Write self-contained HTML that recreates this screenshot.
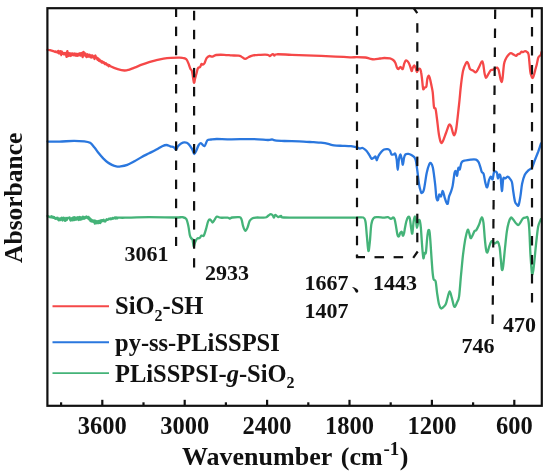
<!DOCTYPE html>
<html><head><meta charset="utf-8"><style>
html,body{margin:0;padding:0;background:#fff;}
svg{display:block;}
</style></head><body>
<svg width="550" height="474" viewBox="0 0 550 474">
<rect width="550" height="474" fill="#fff"/>
<g fill="none" stroke-width="2.3" stroke-linejoin="round" stroke-linecap="round">
<path d="M47.5,49.8 C47.9,49.9 48.9,49.9 50.0,50.2 C51.1,50.5 53.2,51.1 54.0,51.4 C54.8,51.7 54.5,51.8 54.7,51.8 C54.9,51.8 55.2,51.2 55.4,51.3 C55.6,51.3 55.9,52.0 56.1,52.1 C56.3,52.2 56.6,51.7 56.8,51.7 C57.0,51.8 57.3,52.7 57.5,52.5 C57.7,52.4 58.0,50.8 58.2,50.9 C58.4,51.1 58.7,53.2 58.9,53.4 C59.1,53.6 59.4,52.2 59.6,51.9 C59.8,51.5 60.1,50.7 60.3,51.3 C60.5,51.8 60.8,55.1 61.0,55.1 C61.2,55.2 61.5,51.7 61.7,51.5 C61.9,51.3 62.2,53.7 62.4,53.9 C62.6,54.1 62.9,52.7 63.1,52.8 C63.3,52.9 63.6,54.4 63.8,54.4 C64.0,54.4 64.3,52.8 64.5,52.8 C64.7,52.8 65.0,54.4 65.2,54.4 C65.4,54.4 65.7,52.6 65.9,53.0 C66.1,53.4 66.4,57.3 66.6,56.9 C66.8,56.6 67.1,51.3 67.3,51.1 C67.5,50.9 67.8,55.1 68.0,55.8 C68.2,56.4 68.5,55.4 68.7,54.9 C68.9,54.5 69.2,53.0 69.4,53.2 C69.6,53.4 69.9,56.1 70.1,56.1 C70.3,56.1 70.6,53.4 70.8,53.3 C71.0,53.2 71.3,55.6 71.5,55.7 C71.7,55.7 72.0,53.7 72.2,53.4 C72.4,53.1 72.7,53.5 72.9,53.9 C73.1,54.2 73.4,55.5 73.6,55.4 C73.8,55.4 74.1,53.5 74.3,53.5 C74.5,53.6 74.8,55.6 75.0,55.6 C75.2,55.6 75.5,53.6 75.7,53.6 C75.9,53.7 76.2,55.8 76.4,55.8 C76.6,55.8 76.9,53.8 77.1,53.9 C77.3,53.9 77.6,55.9 77.8,55.9 C78.0,55.9 78.3,53.9 78.5,53.8 C78.7,53.7 79.0,55.4 79.2,55.3 C79.4,55.2 79.7,53.1 79.9,53.1 C80.1,53.2 80.4,55.5 80.6,55.6 C80.8,55.6 81.1,54.0 81.3,53.6 C81.5,53.2 81.8,52.6 82.0,53.2 C82.2,53.8 82.5,57.3 82.7,57.1 C82.9,56.9 83.2,52.6 83.4,52.0 C83.6,51.5 83.9,53.0 84.1,53.7 C84.3,54.3 84.6,55.7 84.8,55.7 C85.0,55.7 85.3,53.4 85.5,53.5 C85.7,53.7 86.0,56.0 86.2,56.6 C86.4,57.1 86.7,57.2 86.9,56.8 C87.1,56.4 87.4,54.1 87.6,54.1 C87.8,54.1 88.1,56.5 88.3,56.7 C88.5,56.9 88.8,55.6 89.0,55.2 C89.2,54.9 89.5,54.5 89.7,54.8 C89.9,55.2 90.2,57.1 90.4,57.2 C90.6,57.3 90.9,55.4 91.1,55.4 C91.3,55.5 91.6,57.5 91.8,57.5 C92.0,57.6 92.3,55.5 92.5,55.5 C92.7,55.4 93.0,57.2 93.2,57.3 C93.4,57.5 93.7,56.1 93.9,56.4 C94.1,56.7 94.4,59.1 94.6,59.0 C94.8,58.8 95.1,55.8 95.3,55.5 C95.5,55.3 95.8,57.3 96.0,57.6 C96.2,57.9 96.5,57.2 96.7,57.5 C96.9,57.9 97.2,59.6 97.4,59.7 C97.6,59.8 97.9,58.1 98.1,58.3 C98.3,58.5 98.6,60.4 98.8,60.7 C99.0,60.9 99.3,59.5 99.5,59.6 C99.7,59.7 100.0,61.2 100.2,61.4 C100.4,61.6 100.7,60.6 100.9,60.8 C101.1,61.0 101.4,62.4 101.6,62.5 C101.8,62.6 102.1,61.4 102.3,61.4 C102.5,61.5 102.8,62.6 103.0,62.7 C103.2,62.9 103.5,62.0 103.7,62.1 C103.9,62.3 104.2,63.2 104.4,63.6 C104.6,63.9 104.9,64.4 105.1,64.3 C105.3,64.2 105.6,63.2 105.8,63.1 C106.0,63.1 106.3,63.7 106.5,64.0 C106.7,64.3 107.0,65.0 107.2,65.1 C107.4,65.2 107.7,64.4 107.9,64.6 C108.1,64.7 108.4,66.1 108.6,66.2 C108.8,66.3 109.0,65.1 109.3,65.1 C109.6,65.2 109.1,65.5 110.5,66.2 C111.9,66.9 115.4,68.4 117.7,69.1 C120.0,69.8 122.6,70.4 124.4,70.5 C126.2,70.6 127.0,70.3 128.7,69.8 C130.4,69.3 132.3,68.4 134.5,67.6 C136.7,66.8 139.4,65.6 141.8,64.7 C144.2,63.8 146.7,62.9 149.1,62.1 C151.5,61.3 154.0,60.7 156.4,60.1 C158.8,59.5 161.2,59.0 163.6,58.6 C166.0,58.2 168.5,58.0 170.9,57.9 C173.3,57.8 176.3,57.7 178.2,57.7 C180.1,57.7 181.2,57.6 182.5,57.9 C183.8,58.1 185.2,58.3 186.2,59.2 C187.2,60.1 187.7,61.6 188.4,63.3 C189.1,64.9 189.9,67.8 190.5,69.1 C191.1,70.4 191.4,69.1 192.0,71.3 C192.6,73.5 193.4,81.2 193.9,82.5 C194.4,83.8 194.6,80.5 195.0,79.0 C195.4,77.5 196.0,75.3 196.5,73.5 C197.0,71.7 197.3,69.5 197.9,68.4 C198.5,67.3 199.5,67.6 200.1,66.9 C200.7,66.2 201.0,64.4 201.5,64.0 C202.0,63.6 202.5,64.8 203.0,64.7 C203.5,64.6 203.9,64.4 204.5,63.3 C205.1,62.2 205.8,59.4 206.6,58.2 C207.4,57.0 208.5,56.2 209.5,56.0 C210.5,55.8 211.4,56.9 212.5,56.7 C213.6,56.5 214.2,55.3 216.1,55.0 C218.0,54.7 221.5,54.7 224.1,54.8 C226.7,54.9 229.0,55.2 231.4,55.4 C233.8,55.5 236.9,55.5 238.6,55.7 C240.3,55.9 240.4,56.2 241.5,56.7 C242.6,57.2 244.0,58.9 245.2,58.9 C246.4,58.9 247.5,57.6 248.8,57.0 C250.1,56.4 251.2,55.7 253.2,55.3 C255.1,54.9 258.1,54.9 260.5,54.8 C262.9,54.7 266.1,54.6 267.7,54.8 C269.3,55.0 269.0,56.1 269.9,56.0 C270.8,55.9 272.1,54.1 272.8,54.1 C273.6,54.1 273.8,55.7 274.4,55.7 C275.0,55.7 273.6,54.4 276.5,54.3 C279.4,54.1 285.6,54.6 291.8,54.8 C298.0,55.0 306.3,55.3 313.6,55.6 C320.9,55.9 329.4,56.4 335.5,56.7 C341.6,57.0 346.5,57.2 350.0,57.3 C353.5,57.4 354.0,57.2 356.6,57.2 C359.2,57.2 363.2,57.3 365.4,57.5 C367.6,57.7 368.2,58.3 369.7,58.6 C371.1,58.9 372.4,59.3 374.1,59.3 C375.8,59.3 378.2,58.7 379.9,58.5 C381.6,58.3 382.6,58.0 384.3,58.0 C386.0,58.0 388.5,58.1 390.0,58.4 C391.5,58.7 392.3,59.3 393.2,60.0 C394.1,60.7 394.7,61.5 395.3,62.7 C395.9,63.9 396.4,66.4 396.9,67.4 C397.4,68.5 397.8,69.1 398.4,69.0 C399.0,68.9 399.8,66.9 400.5,66.9 C401.2,66.9 402.1,69.5 402.7,69.0 C403.3,68.5 403.7,65.1 404.2,63.7 C404.7,62.3 405.2,60.9 405.8,60.5 C406.4,60.1 407.2,60.7 407.9,61.6 C408.6,62.5 409.4,64.2 410.0,65.8 C410.6,67.4 411.2,70.8 411.6,71.1 C412.1,71.4 412.2,68.9 412.7,67.9 C413.1,66.9 413.8,65.2 414.3,65.3 C414.8,65.4 415.4,67.3 415.8,68.5 C416.2,69.7 416.4,72.1 416.9,72.2 C417.3,72.3 418.0,69.5 418.5,69.0 C419.0,68.5 419.7,68.5 420.1,69.0 C420.5,69.5 420.8,70.3 421.1,72.2 C421.5,74.1 421.9,77.8 422.2,80.6 C422.5,83.4 422.8,87.9 423.2,89.0 C423.6,90.1 424.3,87.8 424.8,87.4 C425.3,87.0 426.0,87.9 426.4,86.4 C426.8,84.9 427.0,80.3 427.4,78.5 C427.8,76.7 428.1,76.0 428.5,75.8 C428.9,75.6 429.2,76.1 429.6,77.4 C430.0,78.7 430.6,81.3 431.1,83.8 C431.6,86.3 432.2,88.3 432.7,92.2 C433.2,96.1 433.5,104.2 434.0,107.0 C434.5,109.8 435.1,107.0 435.6,109.0 C436.1,111.0 436.4,114.7 437.0,119.0 C437.6,123.3 438.3,131.1 439.0,135.0 C439.7,138.9 440.3,141.6 441.0,142.6 C441.7,143.6 442.2,142.6 443.0,141.0 C443.8,139.4 445.0,135.7 446.0,133.0 C447.0,130.3 448.2,126.2 449.0,125.0 C449.8,123.8 450.3,124.7 451.0,126.0 C451.7,127.3 452.4,131.5 453.0,133.0 C453.6,134.5 453.9,136.0 454.5,135.0 C455.1,134.0 455.8,132.0 456.5,127.0 C457.2,122.0 458.2,112.0 459.0,105.0 C459.8,98.0 460.3,90.7 461.0,85.0 C461.7,79.3 462.2,74.7 463.0,71.0 C463.8,67.3 465.2,64.5 466.0,63.0 C466.8,61.5 467.1,62.0 467.5,62.3 C467.9,62.6 468.2,63.6 468.6,64.7 C469.0,65.8 469.4,68.1 470.1,69.1 C470.8,70.1 472.0,70.0 473.0,70.5 C474.0,71.0 474.9,72.8 475.9,72.3 C476.9,71.8 477.8,69.4 478.8,67.6 C479.8,65.8 481.0,62.1 481.7,61.5 C482.4,60.9 482.7,62.0 483.2,64.0 C483.7,66.0 484.1,71.2 484.6,73.5 C485.1,75.8 485.5,77.7 486.1,77.8 C486.7,77.9 487.6,75.4 488.3,74.2 C489.0,73.0 489.8,71.2 490.5,70.5 C491.2,69.8 491.9,70.1 492.6,69.8 C493.4,69.5 494.2,68.9 495.0,68.5 C495.8,68.1 496.5,67.3 497.1,67.6 C497.7,67.9 498.2,68.4 498.7,70.1 C499.2,71.8 499.8,76.0 500.3,78.0 C500.8,80.0 501.1,82.2 501.5,82.2 C501.9,82.2 502.2,81.0 502.6,78.0 C503.0,75.0 503.5,67.4 504.0,64.3 C504.5,61.2 504.9,60.9 505.5,59.5 C506.1,58.1 506.9,56.8 507.7,55.8 C508.5,54.8 509.6,53.6 510.3,53.2 C511.0,52.8 511.3,53.2 511.9,53.5 C512.5,53.8 513.3,54.4 514.0,54.8 C514.7,55.2 515.5,55.9 516.1,55.8 C516.7,55.7 517.1,54.6 517.7,54.2 C518.3,53.9 519.2,54.1 519.8,53.7 C520.4,53.3 520.9,52.1 521.4,51.8 C521.9,51.5 522.4,52.2 523.0,52.1 C523.6,52.0 524.4,51.1 525.1,51.1 C525.8,51.1 526.6,51.6 527.2,52.1 C527.8,52.6 528.1,52.7 528.5,54.2 C528.9,55.7 529.0,58.2 529.3,61.1 C529.6,64.0 529.9,69.1 530.3,71.6 C530.6,74.1 531.0,74.8 531.4,75.9 C531.8,77.0 532.0,77.9 532.4,78.0 C532.8,78.1 533.0,77.6 533.5,76.4 C534.0,75.2 534.6,72.5 535.1,70.6 C535.6,68.7 536.2,66.9 536.7,64.8 C537.2,62.7 537.7,59.4 538.2,57.9 C538.7,56.4 539.3,56.3 539.8,55.8 C540.2,55.3 540.6,55.4 540.9,54.8 C541.2,54.2 541.4,52.5 541.5,52.1" stroke="#f54848"/>
<path d="M47.5,141.6 C49.5,141.6 55.1,141.7 59.5,141.6 C63.9,141.5 70.0,140.9 74.1,140.9 C78.2,140.9 81.6,141.0 84.3,141.3 C87.0,141.6 88.4,141.8 90.1,142.8 C91.8,143.8 93.0,145.8 94.5,147.5 C96.0,149.2 97.3,151.5 98.8,153.3 C100.2,155.1 101.8,156.9 103.2,158.4 C104.7,159.9 106.0,161.2 107.5,162.3 C109.0,163.4 110.4,164.2 111.9,164.9 C113.4,165.6 114.8,166.2 116.3,166.4 C117.8,166.7 118.8,166.7 120.6,166.4 C122.4,166.2 125.0,165.8 127.3,164.9 C129.6,164.1 132.1,162.6 134.5,161.3 C136.9,160.0 139.4,158.2 141.8,156.9 C144.2,155.6 146.7,154.5 149.1,153.3 C151.5,152.1 154.2,150.8 156.4,149.6 C158.6,148.4 160.5,147.1 162.2,146.3 C163.9,145.5 165.2,145.0 166.5,145.0 C167.8,145.0 169.0,145.9 170.2,146.3 C171.4,146.7 172.8,146.6 173.8,147.2 C174.8,147.8 175.3,149.8 176.0,149.6 C176.7,149.4 177.3,147.0 178.2,146.0 C179.0,145.0 180.0,144.0 181.1,143.4 C182.2,142.8 183.5,142.3 184.7,142.4 C185.9,142.5 187.2,142.7 188.4,143.8 C189.6,144.9 191.0,147.2 192.0,148.9 C193.0,150.6 193.5,153.8 194.2,154.0 C194.9,154.2 195.7,151.8 196.4,150.4 C197.1,149.0 197.8,146.5 198.5,145.3 C199.2,144.1 199.8,143.1 200.8,143.2 C201.8,143.3 203.4,146.6 204.5,146.1 C205.6,145.6 206.3,141.4 207.4,140.3 C208.5,139.2 209.4,139.7 211.0,139.5 C212.6,139.3 213.4,139.0 216.8,139.0 C220.2,139.0 225.3,139.3 231.4,139.3 C237.5,139.3 247.1,139.0 253.2,139.1 C259.2,139.2 264.5,139.9 267.7,140.0 C270.9,140.1 270.9,139.4 272.1,139.5 C273.3,139.6 272.9,140.1 275.0,140.3 C277.1,140.6 280.5,140.8 284.5,141.0 C288.5,141.2 294.2,141.2 299.1,141.4 C304.0,141.6 310.0,142.0 313.6,142.2 C317.2,142.4 318.5,142.4 320.9,142.7 C323.3,143.0 326.0,143.4 328.2,143.9 C330.4,144.4 331.6,145.1 334.0,145.4 C336.4,145.7 339.9,145.7 342.7,145.8 C345.5,145.9 348.5,145.9 350.9,146.2 C353.2,146.5 355.3,147.0 356.8,147.4 C358.3,147.8 358.8,148.4 359.8,148.5 C360.8,148.6 361.6,147.6 362.7,148.0 C363.8,148.4 365.3,149.5 366.4,150.7 C367.5,151.9 368.5,153.8 369.4,155.1 C370.3,156.4 370.9,158.4 371.6,158.8 C372.3,159.2 373.1,158.1 373.8,157.7 C374.5,157.3 375.1,156.2 375.6,156.6 C376.1,157.0 376.3,160.3 376.7,160.3 C377.1,160.3 377.4,158.0 378.2,156.6 C378.9,155.2 380.2,153.3 381.2,152.1 C382.2,150.9 383.0,150.0 384.1,149.5 C385.2,149.0 386.8,149.0 387.8,149.2 C388.8,149.4 389.4,149.8 390.0,150.7 C390.6,151.6 390.9,153.8 391.5,154.4 C392.1,155.0 393.1,154.5 393.7,154.4 C394.3,154.3 394.7,152.8 395.2,153.6 C395.7,154.4 396.3,156.8 396.7,159.5 C397.1,162.2 397.3,169.9 397.7,169.9 C398.1,169.9 398.4,162.1 398.9,159.5 C399.3,156.9 399.9,154.4 400.4,154.4 C400.9,154.4 401.4,157.8 401.8,159.5 C402.2,161.2 402.5,164.9 402.9,164.7 C403.3,164.4 403.6,159.7 404.0,158.0 C404.4,156.3 404.8,155.1 405.5,154.4 C406.2,153.7 407.5,153.8 408.5,153.9 C409.5,154.0 410.4,154.5 411.4,155.1 C412.4,155.7 413.7,156.4 414.4,157.3 C415.1,158.2 415.3,158.1 415.8,160.5 C416.3,162.9 417.0,168.1 417.5,172.0 C418.0,175.9 418.5,180.9 419.0,184.0 C419.5,187.1 420.0,189.0 420.5,190.5 C421.0,192.0 421.2,193.2 421.8,193.0 C422.4,192.8 423.2,192.5 424.0,189.2 C424.8,185.9 425.8,177.2 426.7,173.0 C427.6,168.8 428.6,165.7 429.3,164.1 C430.0,162.5 430.5,162.6 431.1,163.2 C431.7,163.8 432.2,164.3 432.9,167.7 C433.6,171.1 434.5,178.7 435.1,183.8 C435.7,188.9 436.0,195.4 436.5,198.1 C437.0,200.8 437.6,200.5 438.0,199.9 C438.4,199.3 438.7,195.2 439.2,194.6 C439.7,194.0 440.4,197.0 441.0,196.4 C441.6,195.8 442.2,190.8 442.8,191.0 C443.4,191.2 444.0,195.4 444.6,197.3 C445.2,199.2 445.9,201.6 446.4,202.6 C446.9,203.6 447.4,204.5 447.8,203.5 C448.2,202.5 448.6,198.3 449.1,196.4 C449.6,194.5 450.3,193.7 450.9,191.9 C451.5,190.1 452.1,188.8 452.7,185.6 C453.3,182.4 454.0,175.4 454.5,173.0 C455.0,170.6 455.5,170.8 455.9,171.2 C456.3,171.6 456.7,176.3 457.1,175.7 C457.5,175.1 457.9,168.7 458.4,167.7 C458.8,166.7 459.3,170.4 459.8,169.5 C460.3,168.6 460.7,163.8 461.6,162.3 C462.5,160.8 463.7,160.9 465.2,160.5 C466.7,160.1 468.8,159.8 470.6,159.6 C472.4,159.4 474.6,159.1 476.0,159.6 C477.4,160.1 477.9,161.0 478.7,162.3 C479.4,163.7 480.0,166.1 480.5,167.7 C481.0,169.3 481.3,171.1 481.8,172.1 C482.3,173.1 483.0,172.1 483.6,173.9 C484.2,175.7 484.8,180.7 485.4,182.9 C486.0,185.2 486.6,187.9 487.2,187.4 C487.8,186.9 488.4,182.0 489.0,180.2 C489.6,178.4 490.2,176.8 490.8,176.6 C491.4,176.4 492.1,180.1 492.6,179.3 C493.1,178.6 493.5,173.4 494.0,172.1 C494.5,170.8 495.3,171.4 495.8,171.6 C496.3,171.8 496.6,171.9 497.0,173.0 C497.4,174.1 497.5,178.1 497.9,178.4 C498.3,178.7 498.8,175.1 499.2,174.8 C499.6,174.5 500.2,173.9 500.6,176.6 C501.1,179.3 501.4,190.7 501.9,191.0 C502.3,191.3 502.8,180.5 503.3,178.4 C503.8,176.3 504.4,178.7 505.1,178.4 C505.9,178.1 507.1,176.6 507.8,176.6 C508.6,176.6 508.9,177.5 509.6,178.4 C510.3,179.3 511.3,179.9 511.9,182.0 C512.5,184.1 512.7,187.7 513.2,191.0 C513.7,194.3 514.4,199.5 515.0,201.7 C515.6,203.9 516.2,203.8 516.8,204.4 C517.4,205.0 518.0,206.6 518.6,205.3 C519.2,204.0 519.8,200.0 520.4,196.4 C521.0,192.8 521.4,187.4 522.1,183.8 C522.8,180.2 523.8,177.0 524.8,174.8 C525.8,172.6 527.2,171.6 528.4,170.4 C529.6,169.2 531.0,169.3 532.0,167.7 C533.0,166.0 533.7,163.2 534.7,160.5 C535.8,157.8 537.2,154.3 538.3,151.5 C539.3,148.7 540.5,144.8 541.0,143.5" stroke="#2a77de"/>
<path d="M47.5,215.9 C47.9,216.1 49.5,217.0 50.0,217.2 C50.5,217.4 50.5,217.1 50.7,216.9 C50.9,216.8 51.2,216.1 51.4,216.2 C51.6,216.3 51.9,217.5 52.1,217.6 C52.3,217.6 52.6,216.6 52.8,216.7 C53.0,216.7 53.3,217.8 53.5,217.8 C53.7,217.9 54.0,217.1 54.2,217.1 C54.4,217.2 54.7,218.1 54.9,218.4 C55.1,218.6 55.4,218.8 55.6,218.7 C55.8,218.6 56.1,217.8 56.3,217.8 C56.5,217.9 56.8,219.0 57.0,219.0 C57.2,219.0 57.5,217.6 57.7,217.7 C57.9,217.9 58.2,219.4 58.4,219.8 C58.6,220.3 58.9,220.5 59.1,220.2 C59.3,220.0 59.6,218.6 59.8,218.5 C60.0,218.5 60.3,220.2 60.5,220.1 C60.7,220.1 61.0,218.6 61.2,218.2 C61.4,217.8 61.7,217.6 61.9,218.0 C62.1,218.4 62.4,220.7 62.6,220.7 C62.8,220.7 63.1,218.4 63.3,217.9 C63.5,217.4 63.8,217.5 64.0,217.8 C64.2,218.2 64.5,219.6 64.7,220.0 C64.9,220.5 65.2,221.1 65.4,220.7 C65.6,220.3 65.9,217.9 66.1,217.8 C66.3,217.7 66.6,220.1 66.8,220.1 C67.0,220.1 67.3,218.4 67.5,218.1 C67.7,217.7 68.0,218.0 68.2,218.0 C68.4,218.0 68.7,218.2 68.9,218.2 C69.1,218.1 69.4,217.2 69.6,217.5 C69.8,217.9 70.1,219.7 70.3,220.1 C70.5,220.6 70.8,220.6 71.0,220.3 C71.2,220.0 71.5,218.2 71.7,218.2 C71.9,218.2 72.2,220.3 72.4,220.2 C72.6,220.1 72.9,217.4 73.1,217.4 C73.3,217.5 73.6,220.4 73.8,220.4 C74.0,220.4 74.3,217.4 74.5,217.3 C74.7,217.2 75.0,219.8 75.2,219.9 C75.4,219.9 75.7,217.6 75.9,217.6 C76.1,217.5 76.4,219.5 76.6,219.6 C76.8,219.6 77.1,218.0 77.3,217.6 C77.5,217.3 77.8,217.1 78.0,217.5 C78.2,217.8 78.5,220.1 78.7,220.0 C78.9,219.9 79.2,217.1 79.4,217.0 C79.6,217.0 79.9,219.8 80.1,219.8 C80.3,219.8 80.6,217.3 80.8,217.2 C81.0,217.1 81.3,218.8 81.5,219.1 C81.7,219.4 82.0,219.2 82.2,218.8 C82.4,218.4 82.7,216.6 82.9,216.6 C83.1,216.5 83.4,218.2 83.6,218.6 C83.8,218.9 84.1,218.9 84.3,218.6 C84.5,218.3 84.8,217.1 85.0,217.0 C85.2,216.9 85.5,218.0 85.7,218.0 C85.9,217.9 86.2,216.7 86.4,216.6 C86.6,216.4 86.9,216.7 87.1,217.0 C87.3,217.3 87.6,218.4 87.8,218.4 C88.0,218.4 88.3,216.8 88.5,216.9 C88.7,217.1 89.0,219.2 89.2,219.4 C89.4,219.7 89.7,218.0 89.9,218.3 C90.1,218.6 90.4,221.0 90.6,221.2 C90.8,221.4 91.1,219.4 91.3,219.5 C91.5,219.6 91.8,221.5 92.0,221.6 C92.2,221.8 92.5,220.3 92.7,220.3 C92.9,220.3 93.2,221.8 93.4,221.8 C93.6,221.9 93.9,220.1 94.1,220.4 C94.3,220.7 94.6,223.5 94.8,223.6 C95.0,223.6 95.3,220.8 95.5,220.8 C95.7,220.7 96.0,223.3 96.2,223.4 C96.4,223.4 96.7,221.3 96.9,221.3 C97.1,221.2 97.4,223.2 97.6,223.1 C97.8,223.0 98.1,220.8 98.3,220.8 C98.5,220.8 98.8,223.2 99.0,223.1 C99.2,223.1 99.5,220.7 99.7,220.7 C99.9,220.7 100.2,223.1 100.4,223.0 C100.6,222.9 100.9,220.3 101.1,220.1 C101.3,219.8 101.6,221.5 101.8,221.5 C102.0,221.5 102.3,220.2 102.5,220.1 C102.7,220.1 103.0,221.1 103.2,221.1 C103.4,221.0 103.7,219.7 103.9,219.8 C104.1,219.8 104.4,220.9 104.6,221.2 C104.8,221.5 105.1,221.7 105.3,221.5 C105.5,221.3 105.8,220.4 106.0,220.1 C106.2,219.7 106.5,219.2 106.7,219.2 C106.9,219.2 107.2,219.8 107.4,219.8 C107.6,219.9 107.9,220.0 108.1,219.8 C108.3,219.6 108.6,218.8 108.8,218.7 C109.0,218.6 109.3,219.2 109.5,219.2 C109.7,219.1 110.0,218.4 110.2,218.4 C110.4,218.5 110.7,219.3 110.9,219.3 C111.1,219.3 111.4,218.4 111.6,218.4 C111.8,218.3 112.1,218.9 112.3,218.8 C112.5,218.8 112.8,218.0 113.0,217.9 C113.2,217.9 113.5,218.7 113.7,218.6 C113.9,218.6 114.2,218.1 114.4,217.9 C114.6,217.6 114.9,217.3 115.1,217.4 C115.3,217.5 115.6,218.5 115.8,218.5 C116.0,218.5 116.3,217.5 116.5,217.5 C116.7,217.5 117.0,218.4 117.2,218.4 C117.4,218.4 116.6,217.8 117.9,217.7 C119.2,217.6 119.8,217.8 125.0,217.7 C130.2,217.6 140.7,217.2 149.1,217.2 C157.5,217.2 169.7,217.5 175.3,217.5 C180.9,217.5 180.7,217.0 182.5,217.2 C184.3,217.4 185.2,217.4 186.2,218.9 C187.2,220.4 187.8,223.5 188.4,226.2 C189.0,228.9 189.3,232.8 189.8,234.9 C190.3,237.0 190.9,237.8 191.3,238.5 C191.8,239.2 192.1,238.0 192.5,239.3 C192.9,240.6 193.3,246.0 193.7,246.5 C194.1,247.0 194.4,243.8 195.0,242.5 C195.6,241.2 196.4,239.2 197.2,238.5 C197.9,237.8 198.8,238.6 199.5,238.1 C200.2,237.6 200.9,236.0 201.6,235.6 C202.3,235.2 203.1,236.7 203.8,235.6 C204.5,234.5 205.3,231.5 206.0,229.1 C206.7,226.7 207.5,222.7 208.2,221.1 C208.9,219.5 209.7,219.4 210.4,219.6 C211.1,219.8 211.8,222.5 212.5,222.5 C213.2,222.5 214.0,220.6 214.7,219.6 C215.4,218.6 215.9,217.0 216.9,216.7 C217.9,216.4 218.7,217.5 220.5,217.7 C222.3,217.9 226.2,217.5 227.8,217.7 C229.4,217.8 229.3,218.6 230.0,218.6 C230.7,218.6 230.6,217.7 232.2,217.5 C233.8,217.3 237.9,216.8 239.5,217.2 C241.1,217.5 241.0,218.1 241.6,219.6 C242.2,221.1 242.5,224.3 243.1,226.2 C243.7,228.1 244.6,230.6 245.3,230.8 C246.0,231.0 246.8,229.2 247.5,227.6 C248.2,226.0 248.8,222.7 249.6,221.1 C250.4,219.5 251.3,218.8 252.5,218.2 C253.7,217.6 255.2,217.6 256.9,217.5 C258.6,217.4 261.1,217.8 262.7,217.7 C264.3,217.6 265.4,217.6 266.4,217.2 C267.4,216.8 267.8,216.0 268.5,215.5 C269.2,215.0 270.1,214.1 270.8,214.1 C271.6,214.1 272.5,215.1 273.0,215.7 C273.5,216.3 273.6,217.7 274.0,217.5 C274.4,217.3 274.5,214.9 275.2,214.8 C275.9,214.7 277.1,216.8 278.1,217.0 C279.1,217.2 280.0,215.9 281.0,216.0 C282.0,216.1 279.3,217.2 283.9,217.5 C288.5,217.8 298.4,217.7 308.6,217.7 C318.8,217.7 337.4,217.7 345.0,217.7 C352.6,217.7 351.4,217.7 354.5,217.7 C357.6,217.7 361.5,216.8 363.3,217.5 C365.1,218.2 364.9,218.7 365.5,221.8 C366.1,225.0 366.4,231.6 366.9,236.4 C367.4,241.2 367.9,249.9 368.4,250.9 C368.9,251.9 369.3,246.6 369.8,242.2 C370.3,237.8 370.7,228.7 371.3,224.7 C371.9,220.7 372.4,219.4 373.5,218.2 C374.6,216.9 376.1,217.3 377.8,217.2 C379.5,217.1 381.9,217.7 383.6,217.7 C385.3,217.7 386.8,217.0 388.0,217.2 C389.2,217.4 390.0,218.8 390.9,218.9 C391.8,219.0 392.5,217.5 393.1,217.5 C393.7,217.5 394.0,217.5 394.5,218.9 C395.0,220.3 395.5,223.5 396.0,226.2 C396.5,228.9 397.0,233.2 397.5,234.9 C398.0,236.6 398.4,236.8 398.9,236.4 C399.4,236.0 399.9,233.4 400.4,232.7 C400.9,232.0 401.4,231.5 401.8,232.0 C402.2,232.5 402.4,235.3 402.8,235.6 C403.2,235.8 403.6,234.8 404.0,233.5 C404.4,232.2 404.6,229.8 405.0,227.8 C405.4,225.8 405.8,223.3 406.3,221.5 C406.8,219.7 407.6,217.5 408.2,217.0 C408.8,216.5 409.3,216.5 409.8,218.3 C410.3,220.1 410.7,225.3 411.1,227.8 C411.5,230.3 411.9,234.6 412.3,233.5 C412.7,232.4 413.2,224.3 413.6,221.5 C414.0,218.7 414.5,216.4 414.9,216.4 C415.3,216.4 415.8,219.6 416.1,221.5 C416.5,223.4 416.6,227.8 417.0,227.8 C417.4,227.8 417.9,222.8 418.3,221.5 C418.7,220.2 419.2,219.2 419.6,220.2 C420.0,221.1 420.4,223.0 420.8,227.2 C421.2,231.4 421.7,240.3 422.1,245.5 C422.5,250.7 423.0,256.9 423.4,258.2 C423.8,259.5 424.2,254.0 424.6,253.1 C425.0,252.2 425.5,255.0 425.9,252.5 C426.3,250.0 426.8,241.6 427.2,237.9 C427.6,234.2 428.0,231.2 428.4,230.3 C428.8,229.5 429.3,229.5 429.7,232.8 C430.1,236.1 430.6,243.9 431.0,250.1 C431.4,256.3 432.0,265.3 432.4,270.2 C432.8,275.1 433.1,277.4 433.6,279.2 C434.1,281.0 435.0,279.0 435.6,281.2 C436.2,283.4 436.4,288.4 437.0,292.3 C437.6,296.2 438.3,301.6 439.0,304.3 C439.7,307.0 440.3,307.9 441.0,308.4 C441.7,308.9 442.3,308.0 443.1,307.3 C443.9,306.6 444.9,306.0 445.7,304.3 C446.5,302.6 447.0,299.5 447.7,297.3 C448.4,295.1 449.0,291.3 449.7,291.3 C450.4,291.3 451.0,295.0 451.7,297.3 C452.4,299.6 453.1,303.7 453.7,305.3 C454.3,306.9 454.5,307.2 455.1,306.7 C455.7,306.2 456.4,304.0 457.1,302.3 C457.8,300.6 458.4,301.0 459.1,296.3 C459.8,291.6 460.4,281.2 461.1,274.2 C461.8,267.2 462.4,259.8 463.1,254.1 C463.8,248.4 464.4,244.1 465.1,240.1 C465.9,236.1 466.9,231.2 467.6,230.0 C468.3,228.8 468.7,231.7 469.2,233.0 C469.7,234.3 470.1,237.6 470.6,238.1 C471.1,238.6 471.5,237.3 472.2,236.1 C472.9,234.9 473.9,232.0 474.6,231.0 C475.3,230.0 475.6,231.2 476.3,230.1 C477.0,229.0 478.2,226.5 479.0,224.7 C479.8,222.9 480.3,220.5 480.8,219.3 C481.3,218.1 481.8,217.0 482.2,217.6 C482.6,218.2 483.1,219.6 483.5,222.9 C483.9,226.2 484.3,232.8 484.7,237.3 C485.1,241.8 485.7,247.3 486.1,249.8 C486.6,252.3 486.9,252.8 487.4,252.5 C487.8,252.2 488.3,249.6 488.8,248.0 C489.3,246.4 490.0,243.9 490.6,242.7 C491.2,241.5 491.8,240.8 492.4,240.9 C493.0,241.1 493.6,243.3 494.2,243.6 C494.8,243.9 495.4,243.0 496.0,242.7 C496.6,242.4 497.2,241.1 497.8,241.8 C498.4,242.5 499.1,244.3 499.6,247.1 C500.1,249.9 500.4,255.1 500.8,258.8 C501.2,262.6 501.5,268.4 501.9,269.6 C502.3,270.8 502.7,269.6 503.2,266.0 C503.7,262.4 504.4,253.7 505.0,248.0 C505.6,242.3 506.2,236.1 506.8,231.9 C507.4,227.7 507.9,225.3 508.6,222.9 C509.3,220.5 510.2,218.2 510.9,217.6 C511.6,217.0 512.2,218.4 513.0,219.3 C513.8,220.2 514.9,221.9 515.7,222.9 C516.6,223.9 517.4,225.1 518.1,225.1 C518.9,225.1 519.4,224.0 520.2,222.9 C521.0,221.8 522.0,219.4 522.9,218.5 C523.8,217.6 524.8,217.7 525.6,217.6 C526.4,217.5 527.2,216.1 527.8,217.9 C528.4,219.7 528.8,222.1 529.2,228.3 C529.7,234.5 530.0,247.7 530.5,255.2 C531.0,262.7 531.5,270.5 531.9,273.2 C532.3,275.9 532.6,273.8 533.1,271.4 C533.6,269.0 534.1,263.9 534.6,258.8 C535.1,253.7 535.8,246.3 536.4,240.9 C537.0,235.5 537.5,230.1 538.2,226.5 C538.9,222.9 540.4,220.5 540.8,219.3" stroke="#44b378"/>
</g>
<g stroke="#111" stroke-width="2.2" fill="none"><line x1="176.10" y1="8.2" x2="176.10" y2="17.0"/><line x1="176.10" y1="26.6" x2="176.10" y2="36.1"/><line x1="176.10" y1="45.7" x2="176.10" y2="55.2"/><line x1="176.10" y1="64.9" x2="176.10" y2="74.4"/><line x1="176.10" y1="84.0" x2="176.10" y2="93.5"/><line x1="176.10" y1="103.1" x2="176.10" y2="112.6"/><line x1="176.10" y1="122.2" x2="176.10" y2="131.7"/><line x1="176.10" y1="141.3" x2="176.10" y2="150.8"/><line x1="176.10" y1="160.5" x2="176.10" y2="170.0"/><line x1="176.10" y1="179.6" x2="176.10" y2="189.1"/><line x1="176.10" y1="198.7" x2="176.10" y2="208.2"/><line x1="176.10" y1="217.8" x2="176.10" y2="227.3"/><line x1="176.10" y1="236.9" x2="176.10" y2="246.0"/><line x1="194.10" y1="10.8" x2="194.10" y2="20.3"/><line x1="194.10" y1="29.8" x2="194.10" y2="39.3"/><line x1="194.10" y1="48.9" x2="194.10" y2="58.4"/><line x1="194.10" y1="67.9" x2="194.10" y2="77.4"/><line x1="194.10" y1="86.9" x2="194.10" y2="96.4"/><line x1="194.10" y1="106.0" x2="194.10" y2="115.5"/><line x1="194.10" y1="125.0" x2="194.10" y2="134.5"/><line x1="194.10" y1="144.0" x2="194.10" y2="153.5"/><line x1="194.10" y1="163.0" x2="194.10" y2="172.5"/><line x1="194.10" y1="182.1" x2="194.10" y2="191.6"/><line x1="194.10" y1="201.1" x2="194.10" y2="210.6"/><line x1="194.10" y1="220.1" x2="194.10" y2="229.6"/><line x1="194.10" y1="239.2" x2="194.10" y2="248.7"/><line x1="194.10" y1="258.2" x2="194.10" y2="267.5"/><line x1="357.00" y1="8.2" x2="357.00" y2="16.7"/><line x1="357.00" y1="26.2" x2="357.00" y2="35.8"/><line x1="357.00" y1="45.3" x2="357.00" y2="54.8"/><line x1="357.00" y1="64.3" x2="357.00" y2="73.8"/><line x1="357.00" y1="83.4" x2="357.00" y2="92.9"/><line x1="357.00" y1="102.4" x2="357.00" y2="111.9"/><line x1="357.00" y1="121.5" x2="357.00" y2="131.0"/><line x1="357.00" y1="140.5" x2="357.00" y2="150.0"/><line x1="357.00" y1="159.6" x2="357.00" y2="169.1"/><line x1="357.00" y1="178.7" x2="357.00" y2="188.2"/><line x1="357.00" y1="197.7" x2="357.00" y2="207.2"/><line x1="357.00" y1="216.8" x2="357.00" y2="226.3"/><line x1="357.00" y1="235.8" x2="357.00" y2="245.3"/><line x1="357.00" y1="254.9" x2="357.00" y2="257.0"/><line x1="495.19" y1="9.4" x2="495.11" y2="18.9"/><line x1="495.03" y1="28.5" x2="494.95" y2="38.0"/><line x1="494.88" y1="47.5" x2="494.80" y2="57.0"/><line x1="494.72" y1="66.6" x2="494.64" y2="76.1"/><line x1="494.56" y1="85.6" x2="494.48" y2="95.1"/><line x1="494.41" y1="104.7" x2="494.33" y2="114.2"/><line x1="494.25" y1="123.8" x2="494.17" y2="133.3"/><line x1="494.09" y1="142.8" x2="494.01" y2="152.3"/><line x1="493.93" y1="161.9" x2="493.86" y2="171.4"/><line x1="493.78" y1="180.9" x2="493.70" y2="190.4"/><line x1="493.62" y1="200.0" x2="493.54" y2="209.5"/><line x1="493.46" y1="219.1" x2="493.39" y2="228.6"/><line x1="493.31" y1="238.1" x2="493.23" y2="247.6"/><line x1="493.15" y1="257.2" x2="493.07" y2="266.7"/><line x1="492.99" y1="276.2" x2="492.91" y2="285.7"/><line x1="492.84" y1="295.3" x2="492.76" y2="304.8"/><line x1="492.68" y1="314.4" x2="492.60" y2="323.9"/><line x1="532.00" y1="8.2" x2="532.00" y2="17.5"/><line x1="532.00" y1="27.0" x2="532.00" y2="36.5"/><line x1="532.00" y1="46.0" x2="532.00" y2="55.5"/><line x1="532.00" y1="65.0" x2="532.00" y2="74.5"/><line x1="532.00" y1="84.0" x2="532.00" y2="93.5"/><line x1="532.00" y1="103.0" x2="532.00" y2="112.5"/><line x1="532.00" y1="122.0" x2="532.00" y2="131.5"/><line x1="532.00" y1="141.0" x2="532.00" y2="150.5"/><line x1="532.00" y1="160.0" x2="532.00" y2="169.5"/><line x1="532.00" y1="179.0" x2="532.00" y2="188.5"/><line x1="532.00" y1="198.0" x2="532.00" y2="207.5"/><line x1="532.00" y1="217.0" x2="532.00" y2="226.5"/><line x1="532.00" y1="236.0" x2="532.00" y2="245.5"/><line x1="532.00" y1="255.0" x2="532.00" y2="264.5"/><line x1="532.00" y1="274.0" x2="532.00" y2="283.5"/><line x1="532.00" y1="293.0" x2="532.00" y2="302.5"/><path d="M357,254.5 L357,257.2 L365,257.2"/><line x1="374.5" y1="257.2" x2="384.0" y2="257.2"/><line x1="393.6" y1="257.2" x2="403.1" y2="257.2"/><path d="M413.2,257.9 L417.7,251.5"/><line x1="417.30" y1="23.2" x2="417.30" y2="32.7"/><line x1="417.30" y1="42.2" x2="417.30" y2="51.8"/><line x1="417.30" y1="61.3" x2="417.30" y2="70.8"/><line x1="417.30" y1="80.3" x2="417.30" y2="89.8"/><line x1="417.30" y1="99.4" x2="417.30" y2="108.9"/><line x1="417.30" y1="118.4" x2="417.30" y2="127.9"/><line x1="417.30" y1="137.5" x2="417.30" y2="147.0"/><line x1="417.30" y1="156.6" x2="417.30" y2="166.1"/><line x1="417.30" y1="175.6" x2="417.30" y2="185.1"/><line x1="417.30" y1="194.7" x2="417.30" y2="204.2"/><line x1="417.30" y1="213.7" x2="417.30" y2="223.2"/><line x1="417.30" y1="232.8" x2="417.30" y2="242.3"/><path d="M413.6,8 L417.3,13.2"/></g>
<g stroke="#111" stroke-width="2.2">
<line x1="61.1" y1="405.8" x2="61.1" y2="402.3"/><line x1="102.3" y1="405.8" x2="102.3" y2="399.8"/><line x1="143.5" y1="405.8" x2="143.5" y2="402.3"/><line x1="184.7" y1="405.8" x2="184.7" y2="399.8"/><line x1="225.9" y1="405.8" x2="225.9" y2="402.3"/><line x1="267.1" y1="405.8" x2="267.1" y2="399.8"/><line x1="308.3" y1="405.8" x2="308.3" y2="402.3"/><line x1="349.5" y1="405.8" x2="349.5" y2="399.8"/><line x1="390.7" y1="405.8" x2="390.7" y2="402.3"/><line x1="431.9" y1="405.8" x2="431.9" y2="399.8"/><line x1="473.1" y1="405.8" x2="473.1" y2="402.3"/><line x1="514.3" y1="405.8" x2="514.3" y2="399.8"/>
</g>
<rect x="47.4" y="8.2" width="494.4" height="397.6" fill="none" stroke="#111" stroke-width="2.2"/>
<g font-family="'Liberation Serif', serif" font-weight="bold" fill="#111">
<g font-size="24.5"><text x="102.3" y="434" text-anchor="middle">3600</text><text x="184.7" y="434" text-anchor="middle">3000</text><text x="267.1" y="434" text-anchor="middle">2400</text><text x="349.5" y="434" text-anchor="middle">1800</text><text x="431.9" y="434" text-anchor="middle">1200</text><text x="514.3" y="434" text-anchor="middle">600</text></g>
<text x="182" y="464.5" font-size="26">Wavenumber <tspan x="340.8">(cm</tspan><tspan x="383.5" dy="-9.8" font-size="19">-1</tspan><tspan x="399.8" dy="9.8">)</tspan></text>
<text transform="translate(21.8,197.8) rotate(-90)" font-size="25.5" text-anchor="middle">Absorbance</text>
<g font-size="22">
<text x="124.5" y="261">3061</text>
<text x="205" y="280">2933</text>
<text x="304.5" y="290.3">1667<tspan font-family="'Liberation Serif', 'Noto Serif CJK SC', serif" font-weight="bold" dx="3">、</tspan><tspan x="373">1443</tspan></text>
<text x="304.5" y="318">1407</text>
<text x="461.5" y="353">746</text>
<text x="503" y="331.5">470</text>
</g>
<g font-size="24.5">
<text x="115" y="314">SiO<tspan dy="6.5" font-size="16">2</tspan><tspan dy="-6.5">-SH</tspan></text>
<text x="115" y="350.5">py-ss-PLiSSPSI</text>
<text x="115" y="381.5">PLiSSPSI-<tspan font-style="italic">g</tspan>-SiO<tspan dy="6.5" font-size="16">2</tspan></text>
</g>
</g>
<g stroke-width="1.9">
<line x1="52.5" y1="306.2" x2="109" y2="306.2" stroke="#f54848"/>
<line x1="52.5" y1="342.2" x2="109" y2="342.2" stroke="#2a77de"/>
<line x1="52.5" y1="373.1" x2="109" y2="373.1" stroke="#44b378"/>
</g>
</svg>
</body></html>
